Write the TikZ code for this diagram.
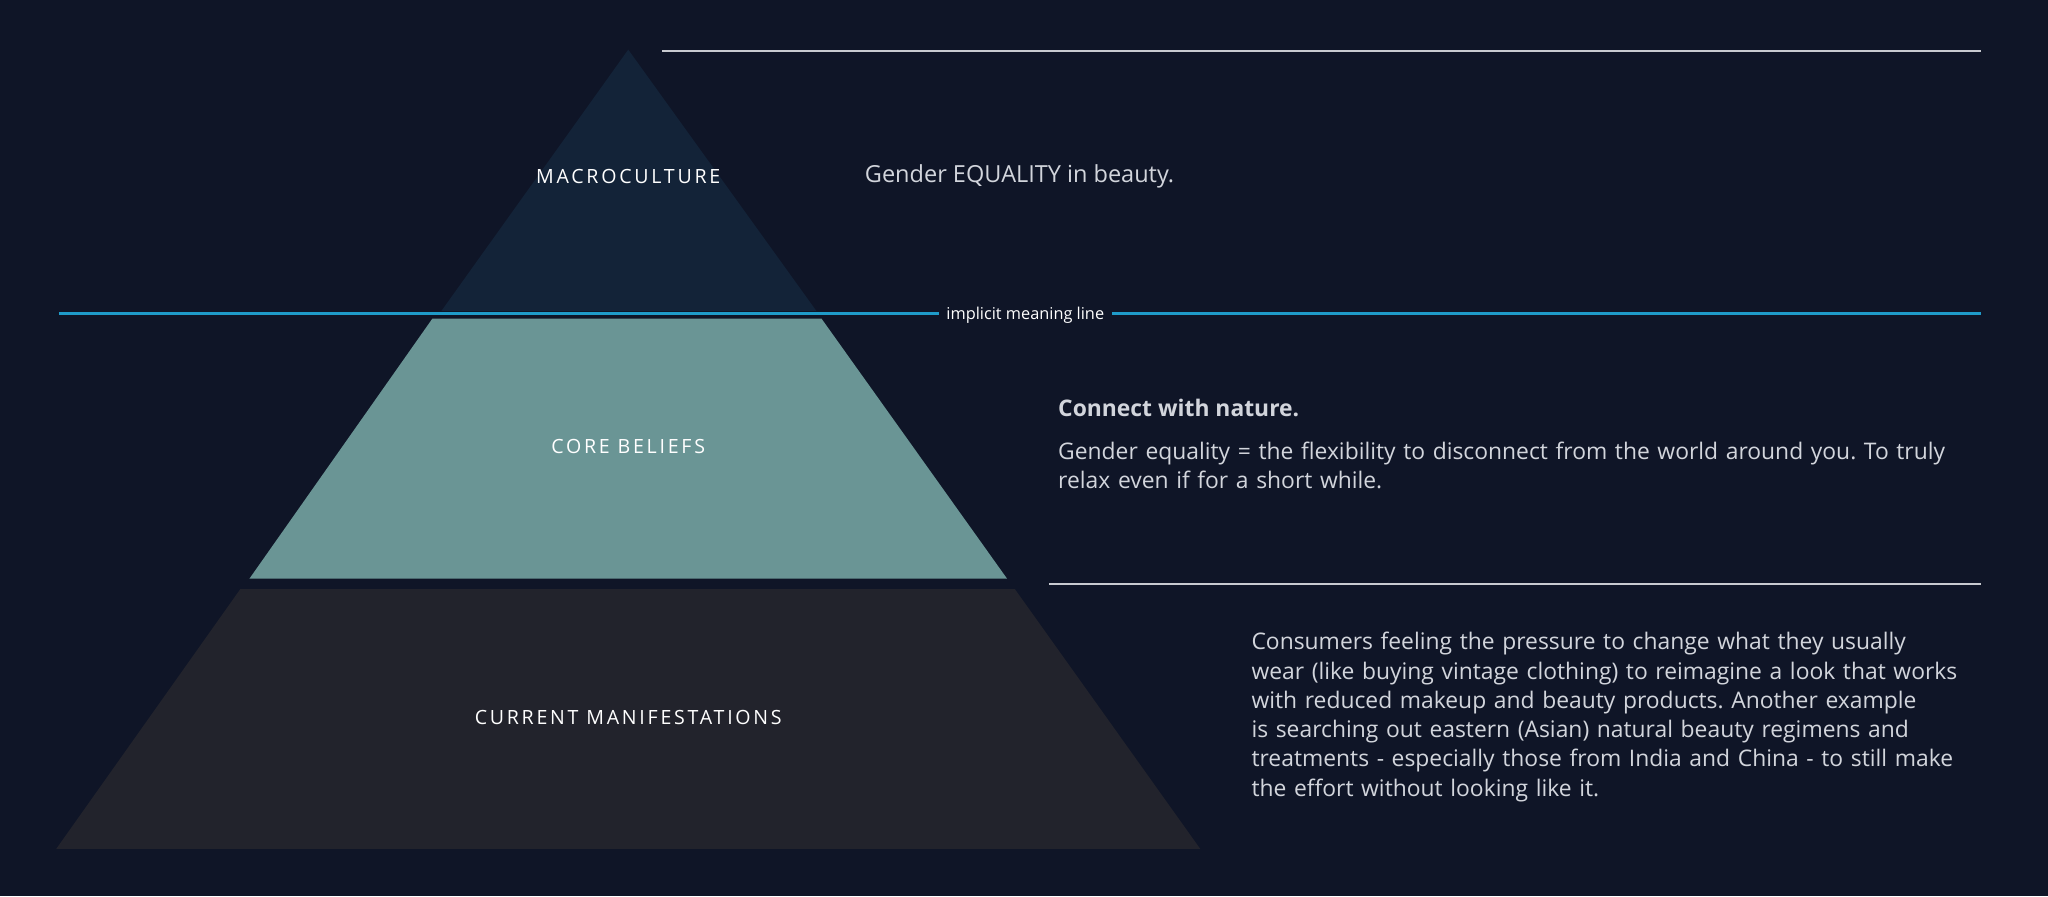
\documentclass[tikz,border=0pt]{standalone}
\usepackage{fontspec}
\setmainfont{Open Sans}
\usepackage{xcolor}
\frenchspacing
\hyphenpenalty=10000
\exhyphenpenalty=10000
\definecolor{bgcol}{HTML}{0F1527}
\definecolor{topcol}{HTML}{132338}
\definecolor{midcol}{HTML}{6A9595}
\definecolor{botcol}{HTML}{22232C}
\definecolor{bluecol}{HTML}{1F9BC9}
\definecolor{txtcol}{HTML}{D2D5DC}
\definecolor{rulecol}{HTML}{C8CAD0}
\tikzset{
  layername/.style={text=white,font=\fontsize{15}{16}\selectfont\addfontfeature{LetterSpace=14}},
  bodytext/.style={text=txtcol,anchor=north west,align=left,inner sep=0,font=\fontsize{17.5}{22.4}\selectfont},
  ruleline/.style={draw=rulecol,line width=1.5pt},
}
\begin{document}
\begin{tikzpicture}[x=1pt,y=-1pt]
\useasboundingbox[fill=bgcol] (0,0) rectangle (1568,686);
% pyramid
\fill[topcol] (481,38) -- (625,238) -- (338,238) -- cycle;
\fill[midcol] (331,244) -- (629,244) -- (771,443) -- (191,443) -- cycle;
\fill[botcol] (184,451) -- (777,451) -- (919,650) -- (43,650) -- cycle;
\node[layername] (macro) at (481,135) {MACROCULTURE};
\node[layername] (core) at (481,342) {CORE BELIEFS};
\node[layername] (current) at (481,549) {CURRENT MANIFESTATIONS};
% lines
\coordinate (r1a) at (507,39); \coordinate (r1b) at (1517,39);
\draw[ruleline] (r1a) -- (r1b);
\coordinate (r2a) at (803,447); \coordinate (r2b) at (1517,447);
\draw[ruleline] (r2a) -- (r2b);
\coordinate (ba) at (45,240); \coordinate (bb) at (1517,240);
\draw[bluecol,line width=2.5pt] (ba) -- (bb);
\node[fill=bgcol,text=white,font=\fontsize{12.5}{14}\selectfont,inner xsep=6pt] (implicit) at (785,241) {implicit meaning line};
% texts
\node[text=txtcol,anchor=west,inner sep=0,font=\fontsize{18}{22}\selectfont] (macrotext) at (662,135) {Gender EQUALITY in beauty.};
\node[bodytext,font=\fontsize{17.5}{22}\selectfont\bfseries] (corehead) at (810,305) {Connect with nature.};
\node[bodytext,text width=700] (coretext) at (810,338) {Gender equality = the flexibility to disconnect from the world around you. To truly relax even if for a short while.};
\node[bodytext,text width=560] (currenttext) at (958,484) {Consumers feeling the pressure to change what they usually wear (like buying vintage clothing) to reimagine a look that works with reduced makeup and beauty products. Another example is searching out eastern (Asian) natural beauty regimens and treatments - especially those from India and China - to still make the effort without looking like it.};
\end{tikzpicture}
\end{document}
